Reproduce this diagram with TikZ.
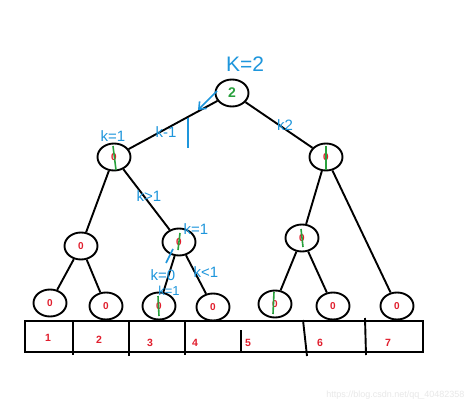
\documentclass[tikz,border=0pt]{standalone}
\usepackage{fontspec}
\setmainfont{Liberation Sans}
\usetikzlibrary{shapes.geometric,arrows.meta}
\definecolor{hblue}{RGB}{30,150,220}
\definecolor{hred}{RGB}{225,30,45}
\definecolor{hgreen}{RGB}{40,160,60}
\definecolor{wmark}{RGB}{232,232,232}
\tikzset{
  tnode/.style={ellipse, draw=black, line width=1.9pt, fill=white, minimum width=33pt, minimum height=27pt, inner sep=0pt, font=\fontsize{10}{10}\selectfont\bfseries, text=hred},
  edge/.style={black, line width=1.9pt},
  note/.style={text=hblue, font=\fontsize{15}{15}\selectfont, inner sep=0pt},
  gstroke/.style={hgreen, line width=1.6pt},
  cellnum/.style={text=hred, font=\fontsize{10.5}{10.5}\selectfont\bfseries, inner sep=0pt},
  divider/.style={black, line width=1.9pt}
}
\begin{document}
\begin{tikzpicture}[x=1pt,y=-1pt]
\useasboundingbox (0,0) rectangle (474,409);
\fill[white] (0,0) rectangle (474,409);
% array
\draw[line width=1.9pt] (25,321) rectangle (423,352);
\coordinate (d1a) at (73,320); \coordinate (d1b) at (73,355);
\coordinate (d2a) at (129,320); \coordinate (d2b) at (129,356);
\coordinate (d3a) at (185,320); \coordinate (d3b) at (185,355);
\coordinate (d4a) at (241,330); \coordinate (d4b) at (241,352);
\coordinate (d5a) at (303,320); \coordinate (d5b) at (307,356);
\coordinate (d6a) at (365,318); \coordinate (d6b) at (366,355);
\foreach \i in {1,...,6} \draw[divider] (d\i a) -- (d\i b);
\node[cellnum] (c1) at (48,338) {1};
\node[cellnum] (c2) at (99,340) {2};
\node[cellnum] (c3) at (150,343) {3};
\node[cellnum] (c4) at (195,343) {4};
\node[cellnum] (c5) at (248,343) {5};
\node[cellnum] (c6) at (320,343) {6};
\node[cellnum] (c7) at (388,343) {7};
% nodes
\node[tnode, text=hgreen, font=\fontsize{14}{14}\selectfont\bfseries] (r) at (232,93) {2};
\node[tnode] (a) at (114,157) {0};
\node[tnode] (b) at (326,157) {0};
\node[tnode] (aa) at (81,246) {0};
\node[tnode] (ab) at (179,242) {0};
\node[tnode] (ba) at (302,238) {0};
\node[tnode] (l1) at (50,303) {0};
\node[tnode] (l2) at (106,306) {0};
\node[tnode] (l3) at (159,306) {0};
\node[tnode] (l4) at (213,307) {0};
\node[tnode] (l5) at (275,304) {0};
\node[tnode] (l6) at (333,306) {0};
\node[tnode] (l7) at (397,306) {0};
% edges
\draw[edge] (r) -- (a);
\draw[edge] (r) -- (b);
\draw[edge] (a) -- (aa);
\draw[edge] (a) -- (ab);
\draw[edge] (b) -- (ba);
\draw[edge] (b) -- (l7);
\draw[edge] (aa) -- (l1);
\draw[edge] (aa) -- (l2);
\draw[edge] (ab) -- (l3);
\draw[edge] (ab) -- (l4);
\draw[edge] (ba) -- (l5);
\draw[edge] (ba) -- (l6);
% green strokes
\draw[gstroke] (113,146) -- (116,170);
\draw[gstroke] (326,146) -- (326,170);
\draw[gstroke] (180,233) -- (178,250);
\draw[gstroke] (301,229) -- (303,247);
\draw[gstroke] (158,296) -- (159,316);
\draw[gstroke] (274,292) -- (273,314);
% blue annotations
\node[note, font=\fontsize{21}{21}\selectfont] (k2) at (245,64) {K=2};
\coordinate (arA) at (217,91);
\coordinate (arB) at (198,110);
\draw[hblue, line width=1.6pt, -{Straight Barb[length=6pt,width=10pt]}] (arA) -- (arB);
\node[note] (ka) at (113,136) {k=1};
\node[note] (km) at (166,132) {k-1};
\coordinate (barA) at (188,118); \coordinate (barB) at (188,148);
\draw[hblue, line width=1.6pt] (barA) -- (barB);
\node[note] (kr) at (285,125) {k2};
\node[note] (kg) at (149,196) {k>1};
\node[note] (kab) at (196,229) {k=1};
\coordinate (slA) at (173,249); \coordinate (slB) at (166,263);
\draw[hblue, line width=1.6pt] (slA) -- (slB);
\node[note] (k0) at (163,275) {k=0};
\node[note, font=\fontsize{13}{13}\selectfont] (kl3) at (169,291) {k=1};
\node[note] (kl) at (206,272) {k<1};
% watermark
\node[text=wmark, font=\fontsize{9}{9}\selectfont, anchor=east] (wm) at (468,395) {https://blog.csdn.net/qq\_40482358};
\end{tikzpicture}
\end{document}
